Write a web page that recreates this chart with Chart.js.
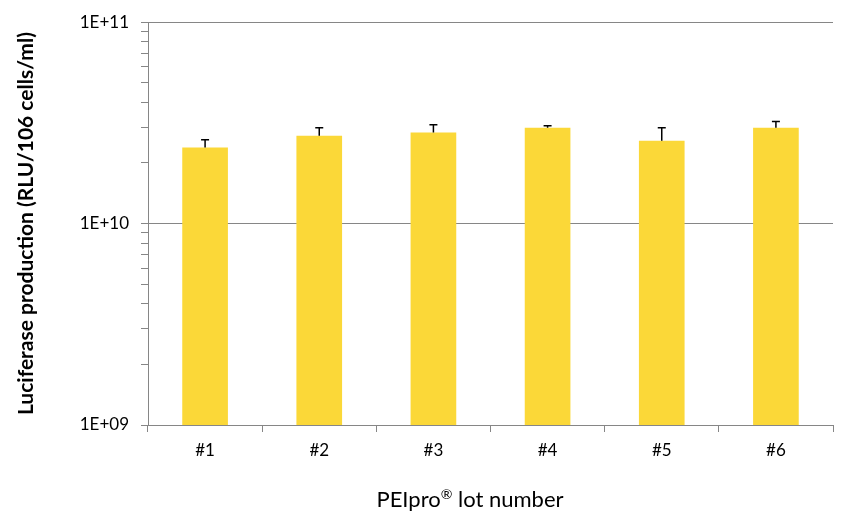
<!DOCTYPE html>
<html>
<head>
<meta charset="utf-8">
<script src="https://cdn.jsdelivr.net/npm/chart.js@4"></script>
<style>
  html, body { margin: 0; padding: 0; background: #fff; }
  #wrap { width: 847px; height: 518px; }
</style>
</head>
<body>
<div id="wrap"><canvas id="lotChart"></canvas></div>
<script>
// Data
const lots = ['#1', '#2', '#3', '#4', '#5', '#6'];
const luciferase = [2.39e10, 2.73e10, 2.83e10, 2.99e10, 2.58e10, 2.99e10];
const errorUpper = [0.22e10, 0.26e10, 0.27e10, 0.07e10, 0.41e10, 0.22e10];
const yDecades = [1e9, 1e10, 1e11];
const yDecadeLabels = ['1E+09', '1E+10', '1E+11'];

const axisGrey = '#868686';
const fontFamily = 'Lato, "Open Sans", sans-serif';

// all tick positions: decades plus 2..9 minor marks in between
const yTickValues = [];
yDecades.forEach((d, i) => {
    yTickValues.push(d);
    if (i < yDecades.length - 1) {
        for (let m = 2; m <= 9; m++) yTickValues.push(d * m);
    }
});

// Upper error bars with a small cap
const errorBars = {
    id: 'errorBars',
    afterDatasetsDraw(chart) {
        const ctx = chart.ctx;
        const y = chart.scales.y;
        const meta = chart.getDatasetMeta(0);
        ctx.save();
        ctx.strokeStyle = '#000';
        ctx.lineWidth = 1.5;
        meta.data.forEach((bar, i) => {
            const top = y.getPixelForValue(luciferase[i] + errorUpper[i]);
            ctx.beginPath();
            ctx.moveTo(bar.x, bar.y);
            ctx.lineTo(bar.x, top);
            ctx.moveTo(bar.x - 4, top);
            ctx.lineTo(bar.x + 4, top);
            ctx.stroke();
        });
        ctx.restore();
    }
};

// x axis title with a raised registered sign
const xTitle = {
    id: 'xTitle',
    afterDraw(chart) {
        const ctx = chart.ctx;
        const parts = ['PEIpro', '\u00AE', ' lot number'];
        const big = '22px ' + fontFamily;
        const small = '14px ' + fontFamily;
        ctx.save();
        ctx.fillStyle = '#000';
        ctx.textBaseline = 'alphabetic';
        ctx.font = big;
        const w0 = ctx.measureText(parts[0]).width;
        const w2 = ctx.measureText(parts[2]).width;
        ctx.font = small;
        const w1 = ctx.measureText(parts[1]).width;
        let x = 470 - (w0 + w1 + w2) / 2;
        const base = 507;
        ctx.font = big;
        ctx.fillText(parts[0], x, base);
        x += w0;
        ctx.font = small;
        ctx.fillText(parts[1], x, base - 8);
        x += w1;
        ctx.font = big;
        ctx.fillText(parts[2], x, base);
        ctx.restore();
    }
};

const ctx = document.getElementById('lotChart').getContext('2d');
const lotChart = new Chart(ctx, {
    type: 'bar',
    data: {
        labels: lots,
        datasets: [{
            label: 'Luciferase production',
            data: luciferase,
            backgroundColor: '#FBD838',
            borderWidth: 0,
            barPercentage: 0.4,
            categoryPercentage: 1.0
        }]
    },
    options: {
        responsive: true,
        maintainAspectRatio: false,
        animation: false,
        layout: { padding: { top: 19, right: 14, left: 0, bottom: 0 } },
        plugins: {
            legend: { display: false },
            tooltip: { enabled: false }
        },
        scales: {
            x: {
                type: 'category',
                offset: true,
                grid: {
                    offset: true,
                    drawOnChartArea: false,
                    tickLength: 7,
                    color: axisGrey
                },
                border: { color: axisGrey },
                ticks: {
                    color: '#000',
                    padding: 8,
                    font: { family: fontFamily, size: 17 }
                },
                afterFit(scale) { scale.height = 93; }
            },
            y: {
                type: 'logarithmic',
                min: 1e9,
                max: 1e11,
                afterBuildTicks(scale) {
                    scale.ticks = yTickValues.map(v => ({ value: v }));
                },
                afterFit(scale) { scale.width = 148; },
                grid: {
                    tickLength: 7,
                    tickColor: axisGrey,
                    color: c => (c.tick && yDecades.includes(c.tick.value)) ? axisGrey : 'rgba(0,0,0,0)'
                },
                border: { color: axisGrey },
                ticks: {
                    autoSkip: false,
                    color: '#000',
                    padding: 12,
                    font: { family: fontFamily, size: 17 },
                    callback: function(value) {
                        const k = yDecades.indexOf(value);
                        return k >= 0 ? yDecadeLabels[k] : '';
                    }
                },
                title: {
                    display: true,
                    text: 'Luciferase production (RLU/106 cells/ml)',
                    color: '#000',
                    padding: { top: 14, bottom: 0 },
                    font: { family: fontFamily, size: 21, weight: 'bold' }
                }
            }
        }
    },
    plugins: [errorBars, xTitle]
});
</script>
</body>
</html>
